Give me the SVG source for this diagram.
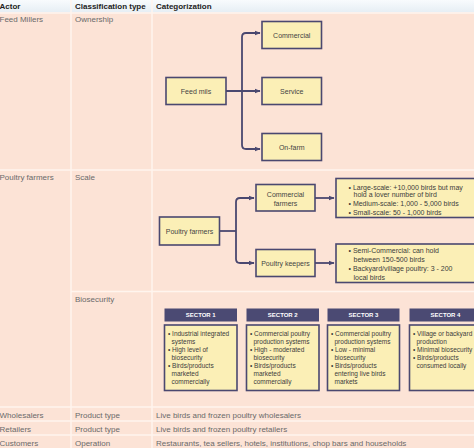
<svg xmlns="http://www.w3.org/2000/svg" width="474" height="448" viewBox="0 0 474 448">
<defs>
<linearGradient id="hdr" x1="0" y1="0" x2="0" y2="1">
<stop offset="0" stop-color="#f8fbfd"/>
<stop offset="1" stop-color="#e6eef4"/>
</linearGradient>
<marker id="arr" viewBox="0 0 10 10" refX="9" refY="5" markerWidth="3.2" markerHeight="3.2" orient="auto" markerUnits="strokeWidth">
<path d="M0 1 L10 5 L0 9 z" fill="#4a4870"/>
</marker>
<style>
.h{font-family:"Liberation Sans",Arial,sans-serif;font-size:8px;font-weight:bold;fill:#222}
.t{font-family:"Liberation Sans",Arial,sans-serif;font-size:8px;fill:#6a6a6a}
.b{font-family:"Liberation Sans",Arial,sans-serif;font-size:7px;fill:#444;text-anchor:middle}
.l{font-family:"Liberation Sans",Arial,sans-serif;font-size:7px;fill:#3c3c3c}
.s{font-family:"Liberation Sans",Arial,sans-serif;font-size:6.5px;fill:#3c3c3c}
.sh{font-family:"Liberation Sans",Arial,sans-serif;font-size:6px;font-weight:bold;fill:#fff;text-anchor:middle}
.box{fill:#fbefb6;stroke:#4a4870;stroke-width:1.6}
.hbox{fill:#4b4a73}
.grid{stroke:#fff5ee;stroke-width:1.5;fill:none}
.con{stroke:#4a4870;stroke-width:1.8;fill:none}
</style>
</defs>
<rect x="0" y="0" width="474" height="448" fill="#fce3d6"/>
<rect x="0" y="0" width="474" height="12.5" fill="url(#hdr)"/>
<g id="grid">
<line class="grid" x1="71" y1="0" x2="71" y2="448"/>
<line class="grid" x1="152" y1="0" x2="152" y2="448"/>
<line class="grid" x1="0" y1="13" x2="474" y2="13"/>
<line class="grid" x1="0" y1="170" x2="474" y2="170"/>
<line class="grid" x1="71" y1="291.5" x2="474" y2="291.5"/>
<line class="grid" x1="0" y1="407" x2="474" y2="407"/>
<line class="grid" x1="0" y1="421" x2="474" y2="421"/>
<line class="grid" x1="0" y1="435" x2="474" y2="435"/>
</g>
<g id="table-text">
<text class="h" x="-0.5" y="9">Actor</text>
<text class="h" x="75" y="9">Classification type</text>
<text class="h" x="156" y="9">Categorization</text>
<text class="t" x="-0.5" y="22">Feed Millers</text>
<text class="t" x="75" y="22">Ownership</text>
<text class="t" x="-0.5" y="179.5">Poultry farmers</text>
<text class="t" x="75" y="179.5">Scale</text>
<text class="t" x="75" y="302">Biosecurity</text>
<text class="t" x="-0.5" y="418">Wholesalers</text>
<text class="t" x="75" y="418">Product type</text>
<text class="t" x="156" y="418">Live birds and frozen poultry wholesalers</text>
<text class="t" x="-0.5" y="432">Retailers</text>
<text class="t" x="75" y="432">Product type</text>
<text class="t" x="156" y="432">Live birds and frozen poultry retailers</text>
<text class="t" x="-0.5" y="446">Customers</text>
<text class="t" x="75" y="446">Operation</text>
<text class="t" x="156" y="446">Restaurants, tea sellers, hotels, institutions, chop bars and households</text>
</g>
<g id="connectors">
<path class="con" d="M226 91 H260" marker-end="url(#arr)"/>
<path class="con" d="M260 33 H246 Q242 33 242 37 V145 Q242 149 246 149 H260" marker-end="url(#arr)"/>
<path class="con" d="M246 33 H260" marker-end="url(#arr)"/>
<path class="con" d="M219 231 H236"/>
<path class="con" d="M254 198 H240 Q236 198 236 202 V259 Q236 263 240 263 H254" marker-end="url(#arr)"/>
<path class="con" d="M240 198 H254" marker-end="url(#arr)"/>
<path class="con" d="M315 198 H334" marker-end="url(#arr)"/>
<path class="con" d="M315 263 H334" marker-end="url(#arr)"/>
</g>
<g id="feed-mils">
<rect class="box" x="166" y="77.5" width="60" height="27"/>
<text class="b" x="196" y="93.5">Feed mils</text>
</g>
<g id="commercial">
<rect class="box" x="262" y="21.5" width="59.5" height="27"/>
<text class="b" x="291.75" y="37.5">Commercial</text>
</g>
<g id="service">
<rect class="box" x="262" y="77.5" width="59.5" height="27"/>
<text class="b" x="291.75" y="93.5">Service</text>
</g>
<g id="on-farm">
<rect class="box" x="262" y="133.5" width="59.5" height="27"/>
<text class="b" x="291.75" y="149.5">On-farm</text>
</g>
<g id="poultry-farmers">
<rect class="box" x="159.5" y="217" width="60" height="28"/>
<text class="b" x="189.5" y="233.5">Poultry farmers</text>
</g>
<g id="commercial-farmers">
<rect class="box" x="256" y="184.5" width="59" height="26.5"/>
<text class="b" x="285.5" y="196.5">Commercial</text>
<text class="b" x="285.5" y="206">farmers</text>
</g>
<g id="poultry-keepers">
<rect class="box" x="256" y="249.5" width="59" height="27"/>
<text class="b" x="285.5" y="265.5">Poultry keepers</text>
</g>
<g id="commercial-scale">
<rect class="box" x="336" y="178.5" width="150" height="39"/>
<text class="l" x="348.5" y="189.5">• Large-scale: +10,000 birds but may</text>
<text class="l" x="353.5" y="197">hold a lover number of bird</text>
<text class="l" x="348.5" y="206">• Medium-scale: 1,000 - 5,000 birds</text>
<text class="l" x="348.5" y="214.5">• Small-scale: 50 - 1,000 birds</text>
</g>
<g id="keeper-scale">
<rect class="box" x="336" y="244" width="150" height="38.5"/>
<text class="l" x="348.5" y="252.5">• Semi-Commercial: can hold</text>
<text class="l" x="353.5" y="261.5">between 150-500 birds</text>
<text class="l" x="348.5" y="270.5">• Backyard/village poultry: 3 - 200</text>
<text class="l" x="353.5" y="279.5">local birds</text>
</g>
<g id="sector-1">
<rect class="hbox" x="164.5" y="308.5" width="72.5" height="13"/>
<text class="sh" x="200.75" y="317.2">SECTOR 1</text>
<rect class="box" x="164.5" y="325" width="72.5" height="65.5"/>
<text class="s" x="168" y="335.5">• Industrial integrated</text>
<text class="s" x="171.5" y="343.5">systems</text>
<text class="s" x="168" y="351.5">• High level of</text>
<text class="s" x="171.5" y="359.5">biosecurity</text>
<text class="s" x="168" y="367.5">• Birds/products</text>
<text class="s" x="171.5" y="375.5">marketed</text>
<text class="s" x="171.5" y="383.5">commercially</text>
</g>
<g id="sector-2">
<rect class="hbox" x="246.5" y="308.5" width="72.5" height="13"/>
<text class="sh" x="282.75" y="317.2">SECTOR 2</text>
<rect class="box" x="246.5" y="325" width="72.5" height="65.5"/>
<text class="s" x="250" y="335.5">• Commercial poultry</text>
<text class="s" x="253.5" y="343.5">production systems</text>
<text class="s" x="250" y="351.5">• High - moderated</text>
<text class="s" x="253.5" y="359.5">biosecurity</text>
<text class="s" x="250" y="367.5">• Birds/products</text>
<text class="s" x="253.5" y="375.5">marketed</text>
<text class="s" x="253.5" y="383.5">commercially</text>
</g>
<g id="sector-3">
<rect class="hbox" x="327.5" y="308.5" width="72" height="13"/>
<text class="sh" x="363.5" y="317.2">SECTOR 3</text>
<rect class="box" x="327.5" y="325" width="72" height="65.5"/>
<text class="s" x="331" y="335.5">• Commercial poultry</text>
<text class="s" x="334.5" y="343.5">production systems</text>
<text class="s" x="331" y="351.5">• Low - minimal</text>
<text class="s" x="334.5" y="359.5">biosecurity</text>
<text class="s" x="331" y="367.5">• Birds/products</text>
<text class="s" x="334.5" y="375.5">entering live birds</text>
<text class="s" x="334.5" y="383.5">markets</text>
</g>
<g id="sector-4">
<rect class="hbox" x="409.5" y="308.5" width="72" height="13"/>
<text class="sh" x="445.5" y="317.2">SECTOR 4</text>
<rect class="box" x="409.5" y="325" width="72" height="65.5"/>
<text class="s" x="413" y="335.5">• Village or backyard</text>
<text class="s" x="416.5" y="343.5">production</text>
<text class="s" x="413" y="351.5">• Minimal biosecurity</text>
<text class="s" x="413" y="359.5">• Birds/products</text>
<text class="s" x="416.5" y="367.5">consumed locally</text>
</g>
</svg>
